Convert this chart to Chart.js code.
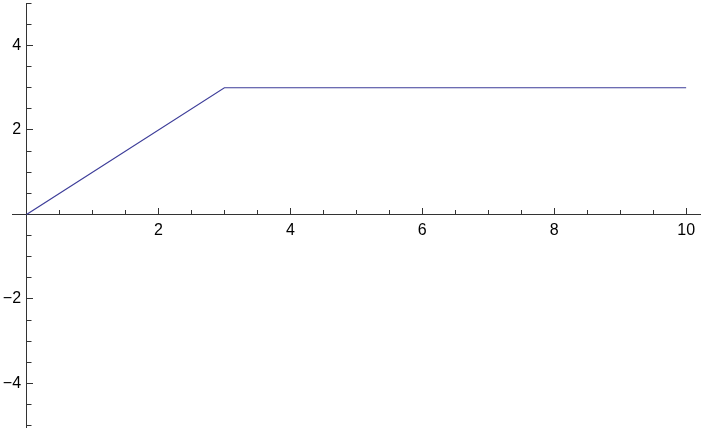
<!DOCTYPE html>
<html>
<head>
<meta charset="utf-8">
<script src="https://cdn.jsdelivr.net/npm/chart.js@4/dist/chart.umd.min.js"></script>
<style>
  html, body { margin: 0; padding: 0; background: #fff; }
  #wrap { width: 704px; height: 432px; }
</style>
</head>
<body>
<div id="wrap"><canvas id="c" width="704" height="432"></canvas></div>
<script>
// Data: vertices of the plotted curve (rises linearly, then flat at 3)
const xValues = [0, 3, 10];
const yValues = [0, 3, 3];
// Tick labels
const xTickLabels = [2, 4, 6, 8, 10];
const yTickLabels = [-4, -2, 2, 4];

const points = xValues.map((x, i) => ({ x: x, y: yValues[i] }));

const X_MIN = -0.22, X_MAX = 10.21;
const Y_MIN = -5.03, Y_MAX = 5.006;
const AXIS = '#333333';
const FONT = { family: '"Liberation Sans", Arial, sans-serif', size: 16 };

function fmt(v) {
  const r = Math.round(v * 1000) / 1000;
  return r < 0 ? '\u2212' + Math.abs(r) : String(r);
}

new Chart(document.getElementById('c'), {
  type: 'scatter',
  data: {
    datasets: [{
      data: points,
      showLine: true,
      borderColor: '#3d3d99',
      borderWidth: 1.2,
      pointRadius: 0,
      fill: false,
      tension: 0,
      xAxisID: 'x',
      yAxisID: 'y'
    }]
  },
  options: {
    responsive: false,
    animation: false,
    devicePixelRatio: 1,
    layout: { padding: { left: 12, right: 4, top: 3, bottom: 5 } },
    plugins: { legend: { display: false }, tooltip: { enabled: false } },
    scales: {
      x: {
        type: 'linear', axis: 'x', position: { y: 0 },
        min: X_MIN, max: X_MAX,
        border: { display: true, color: AXIS, width: 1 },
        grid: { drawOnChartArea: false, drawTicks: true, tickLength: -7, tickColor: AXIS, tickWidth: 1 },
        ticks: { display: false, stepSize: 2, includeBounds: false, maxTicksLimit: 200 }
      },
      x2: {
        type: 'linear', axis: 'x', position: { y: 0 },
        min: X_MIN, max: X_MAX,
        border: { display: false },
        grid: { drawOnChartArea: false, drawTicks: true, tickLength: -4, tickColor: AXIS, tickWidth: 1 },
        ticks: { display: false, stepSize: 0.5, includeBounds: false, maxTicksLimit: 200 }
      },
      xL: {
        type: 'linear', axis: 'x', position: { y: 0 },
        min: X_MIN, max: X_MAX,
        border: { display: false },
        grid: { display: false, drawTicks: false },
        ticks: {
          display: true, stepSize: 2, includeBounds: false, maxTicksLimit: 200,
          padding: 7, color: '#000', font: FONT, maxRotation: 0, autoSkip: false,
          callback: (v) => xTickLabels.includes(Math.round(v * 1000) / 1000) ? fmt(v) : ''
        }
      },
      y: {
        type: 'linear', axis: 'y', position: { x: 0 },
        min: Y_MIN, max: Y_MAX,
        border: { display: true, color: AXIS, width: 1 },
        grid: { drawOnChartArea: false, drawTicks: true, tickLength: -7, tickColor: AXIS, tickWidth: 1 },
        ticks: { display: false, stepSize: 2, includeBounds: false, maxTicksLimit: 200 }
      },
      y2: {
        type: 'linear', axis: 'y', position: { x: 0 },
        min: Y_MIN, max: Y_MAX,
        border: { display: false },
        grid: { drawOnChartArea: false, drawTicks: true, tickLength: -4.5, tickColor: AXIS, tickWidth: 1 },
        ticks: { display: false, stepSize: 0.5, includeBounds: false, maxTicksLimit: 200 }
      },
      yL: {
        type: 'linear', axis: 'y', position: { x: -0.083 },
        min: Y_MIN, max: Y_MAX,
        border: { display: false },
        grid: { display: false, drawTicks: false },
        ticks: {
          display: true, stepSize: 2, includeBounds: false, maxTicksLimit: 200,
          padding: 0, color: '#000', font: Object.assign({}, FONT, { lineHeight: 0.05 }), autoSkip: false,
          callback: (v) => yTickLabels.includes(Math.round(v * 1000) / 1000) ? fmt(v) : ''
        }
      }
    }
  }
});
</script>
</body>
</html>
